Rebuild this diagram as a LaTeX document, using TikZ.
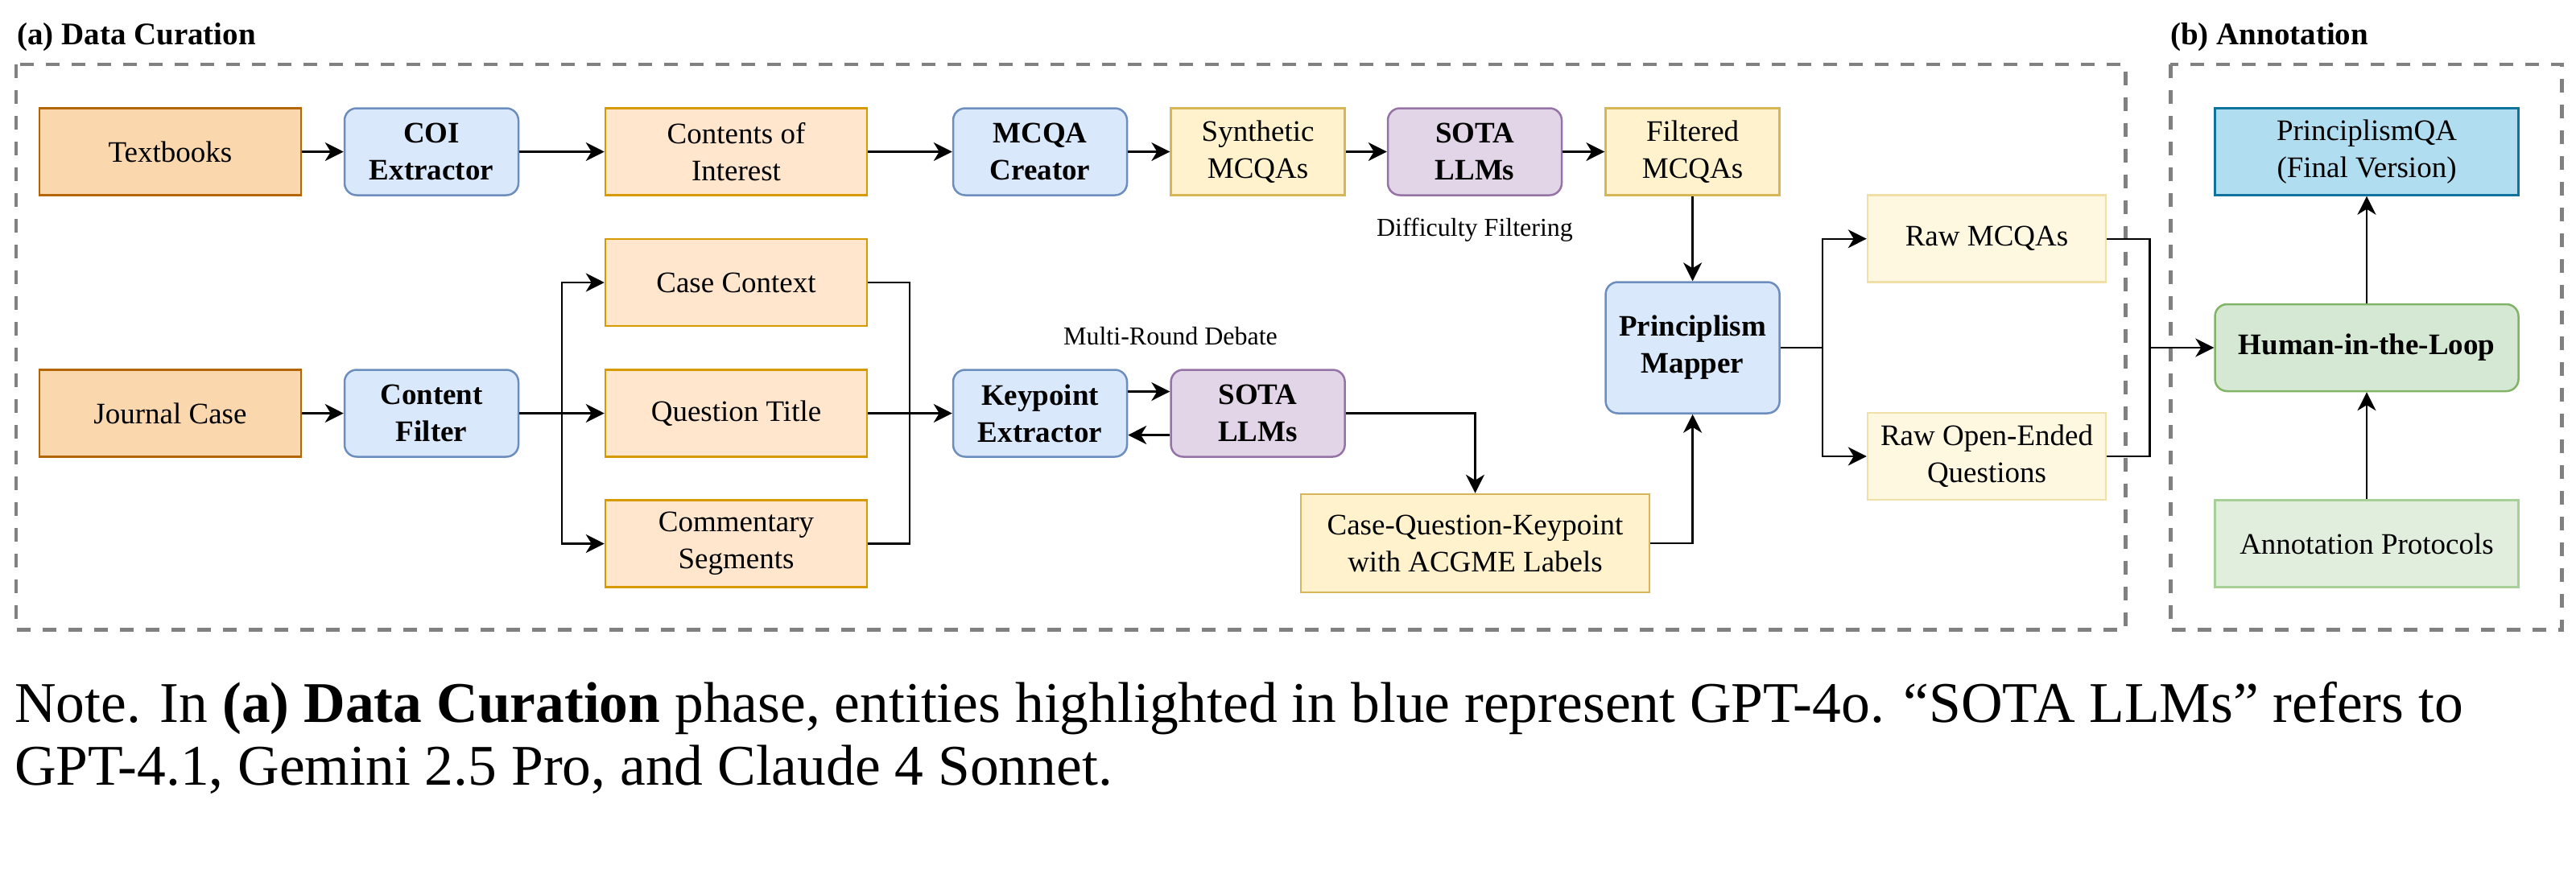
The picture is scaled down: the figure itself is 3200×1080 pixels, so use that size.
\documentclass[tikz,border=0pt]{standalone}
\usepackage{fontspec}
\setmainfont{Liberation Serif}
\usetikzlibrary{arrows.meta}
\definecolor{orgF}{HTML}{FAD7AC}\definecolor{orgD}{HTML}{B46504}
\definecolor{blF}{HTML}{DAE8FC}\definecolor{blD}{HTML}{6C8EBF}
\definecolor{ltoF}{HTML}{FFE6CC}\definecolor{ltoD}{HTML}{D79B00}
\definecolor{yeF}{HTML}{FFF2CC}\definecolor{yeD}{HTML}{D6B656}
\definecolor{puF}{HTML}{E1D5E7}\definecolor{puD}{HTML}{9673A6}
\definecolor{lyF}{HTML}{FFF8E1}\definecolor{lyD}{HTML}{F0E0A8}
\definecolor{grF}{HTML}{D5E8D4}\definecolor{grD}{HTML}{82B366}
\definecolor{lgF}{HTML}{E2EEDD}\definecolor{lgD}{HTML}{A7CF98}
\definecolor{cyF}{HTML}{B1DDF0}\definecolor{cyD}{HTML}{10739E}
\definecolor{framegray}{HTML}{808080}
\tikzset{
  box/.style={draw, line width=2.5pt, inner sep=0pt, align=center, text=black,
    minimum height=108pt, font=\fontsize{37}{46}\selectfont},
  rbox/.style={box, rounded corners=15pt, font=\fontsize{37}{46}\selectfont\bfseries},
  wide/.style={minimum width=325pt},
  narrow/.style={minimum width=216pt},
  orgbox/.style={box, wide, fill=orgF, draw=orgD},
  ltobox/.style={box, wide, fill=ltoF, draw=ltoD},
  yebox/.style={box, narrow, fill=yeF, draw=yeD},
  blbox/.style={rbox, narrow, fill=blF, draw=blD},
  pubox/.style={rbox, narrow, fill=puF, draw=puD},
  lybox/.style={box, minimum width=296pt, fill=lyF, draw=lyD},
  frm/.style={draw=framegray, line width=4.5pt, dash pattern=on 17pt off 15pt},
  ln/.style={draw, line width=2.4pt},
  arr/.style={ln, -{Stealth[length=23pt,width=23pt,inset=7pt]}},
  lbl/.style={inner sep=0pt, anchor=base, font=\fontsize{32}{38}\selectfont},
  ttl/.style={inner sep=0pt, anchor=base west, font=\fontsize{39}{46}\selectfont\bfseries},
}
\begin{document}
\begin{tikzpicture}[x=1pt,y=-1pt]
\useasboundingbox (0,0) rectangle (3200,1080);
% frames
\draw[frm] (20,80) rectangle (2640.5,782.7);
\draw[frm] (2696.4,80) rectangle (3182.4,782.7);
\node[ttl] (ta) at (21,55) {(a) Data Curation};
\node[ttl] (tb2) at (2696,55) {(b) Annotation};
% top row
\node[orgbox] (tb) at (211.5,188.5) {Textbooks};
\node[blbox] (coi) at (536,188.5) {COI\\Extractor};
\node[ltobox] (cint) at (914.5,188.5) {Contents of\\Interest};
\node[blbox] (mcqa) at (1292,188.5) {MCQA\\Creator};
\node[yebox] (syn) at (1562.6,188.5) {Synthetic\\MCQAs};
\node[pubox] (sota1) at (1832,188.5) {SOTA\\LLMs};
\node[yebox] (filt) at (2102.6,188.5) {Filtered\\MCQAs};
\node[lbl] (df) at (1832,293) {Difficulty Filtering};
% lower part
\node[orgbox] (jc) at (211.5,513.5) {Journal Case};
\node[blbox] (cf) at (536,513.5) {Content\\Filter};
\node[ltobox] (cc) at (914.5,351) {Case Context};
\node[ltobox] (qt) at (914.5,513.5) {Question Title};
\node[ltobox] (cs) at (914.5,675.5) {Commentary\\Segments};
\node[blbox] (ke) at (1292,513.5) {Keypoint\\Extractor};
\node[pubox] (sota2) at (1562.6,513.5) {SOTA\\LLMs};
\node[lbl] (mrd) at (1454,428) {Multi-Round Debate};
\node[box, minimum width=433pt, minimum height=122pt, fill=yeF, draw=yeD] (cqk) at (1832.5,675) {Case-Question-Keypoint\\with ACGME Labels};
\node[blbox, minimum height=163pt] (mapper) at (2102.6,432) {Principlism\\Mapper};
\node[lybox] (rawmc) at (2468,296.7) {Raw MCQAs};
\node[lybox] (rawoe) at (2468,567) {Raw Open-Ended\\Questions};
% annotation
\node[box, minimum width=377pt, fill=cyF, draw=cyD] (pqa) at (2940,188.5) {PrinciplismQA\\(Final Version)};
\node[rbox, minimum width=377pt, fill=grF, draw=grD] (hitl) at (2940,432) {Human-in-the-Loop};
\node[box, minimum width=377pt, fill=lgF, draw=lgD] (ap) at (2940,675.5) {Annotation Protocols};
% branch points
\coordinate (b1) at (698,513.5);
\coordinate (b2) at (1130,513.5);
\coordinate (b3) at (2264,432);
\coordinate (b4) at (2670.4,432);
% connectors top
\draw[arr] (tb) -- (coi);
\draw[arr] (coi) -- (cint);
\draw[arr] (cint) -- (mcqa);
\draw[arr] (mcqa) -- (syn);
\draw[arr] (syn) -- (sota1);
\draw[arr] (sota1) -- (filt);
\draw[arr] (filt) -- (mapper);
% connectors lower
\draw[arr] (jc) -- (cf);
\draw[ln] (cf.east) -- (b1);
\draw[arr] (b1) |- (cc.west);
\draw[arr] (b1) -- (qt.west);
\draw[arr] (b1) |- (cs.west);
\draw[ln] (cc.east) -| (b2);
\draw[ln] (cs.east) -| (b2);
\draw[ln] (qt.east) -- (b2);
\draw[arr] (b2) -- (ke.west);
\draw[arr] ([yshift=27pt]ke.east) -- ([yshift=27pt]sota2.west);
\draw[arr] ([yshift=-27pt]sota2.west) -- ([yshift=-27pt]ke.east);
\draw[arr] (sota2.east) -| (cqk.north);
\draw[arr] (cqk.east) -| (mapper.south);
\draw[ln] (mapper.east) -- (b3);
\draw[arr] (b3) |- (rawmc.west);
\draw[arr] (b3) |- (rawoe.west);
\draw[ln] (rawmc.east) -| (b4);
\draw[ln] (rawoe.east) -| (b4);
\draw[arr] (b4) -- (hitl.west);
\draw[arr] (ap) -- (hitl);
\draw[arr] (hitl) -- (pqa);
% note (base anchor = baseline of last line)
\node[inner sep=0pt, anchor=base west, align=left, font=\fontsize{71.5}{78}\selectfont] (note) at (18,975)
  {Note. In \textbf{(a) Data Curation} phase, entities highlighted in blue represent GPT-4o. “SOTA LLMs” refers to\\GPT-4.1, Gemini 2.5 Pro, and Claude 4 Sonnet.};
\end{tikzpicture}
\end{document}
